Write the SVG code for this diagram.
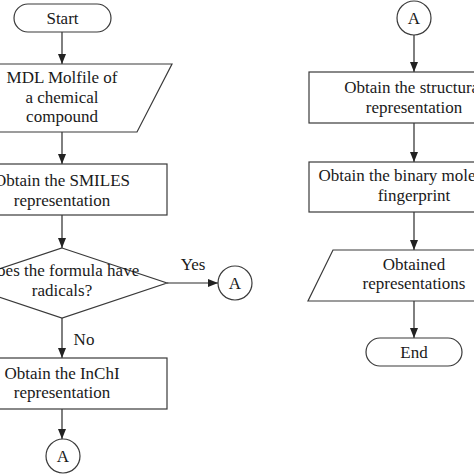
<svg xmlns="http://www.w3.org/2000/svg" width="474" height="474" viewBox="0 0 474 474">
<defs>
<marker id="arr" markerUnits="userSpaceOnUse" markerWidth="10" markerHeight="10" viewBox="0 0 10 10" refX="10" refY="5" orient="auto">
<path d="M0,1 L10,5 L0,9 Z" fill="#222"/>
</marker>
</defs>
<style>
.s{fill:#fff;stroke:#3a3a3a;stroke-width:1.2}
.t{font-family:"Liberation Serif","Times New Roman",serif;font-size:17px;fill:#1a1a1a;text-anchor:middle}
.c{stroke:#2a2a2a;stroke-width:1.2;fill:none;marker-end:url(#arr)}
</style>
<rect width="474" height="474" fill="#fff"/>
<g id="connectors">
<line class="c" x1="62" y1="32" x2="62" y2="64"/>
<line class="c" x1="62" y1="132" x2="62" y2="164"/>
<line class="c" x1="62" y1="215" x2="62" y2="248"/>
<line class="c" x1="167" y1="283" x2="218" y2="283"/>
<line class="c" x1="62" y1="318" x2="62" y2="358"/>
<line class="c" x1="62" y1="409" x2="62" y2="439"/>
<line class="c" x1="414" y1="35" x2="414" y2="72"/>
<line class="c" x1="414" y1="123" x2="414" y2="162"/>
<line class="c" x1="414" y1="212" x2="414" y2="250"/>
<line class="c" x1="414" y1="301" x2="414" y2="338"/>
<text class="t" x="193" y="270">Yes</text>
<text class="t" x="84" y="345">No</text>
</g>
<g id="start">
<rect class="s" x="14" y="4" width="97" height="28" rx="14"/>
<text class="t" x="62.5" y="24">Start</text>
</g>
<g id="molfile">
<polygon class="s" points="-13,64 172,64 137,132 -48,132"/>
<text class="t" x="62" y="83">MDL Molfile of</text>
<text class="t" x="62" y="103">a chemical</text>
<text class="t" x="62" y="122">compound</text>
</g>
<g id="smiles">
<rect class="s" x="-43" y="164" width="210" height="51"/>
<text class="t" x="62" y="186">Obtain the SMILES</text>
<text class="t" x="62" y="206">representation</text>
</g>
<g id="decision">
<polygon class="s" points="62,248 167,283 62,318 -43,283"/>
<text class="t" x="62" y="276">Does the formula have</text>
<text class="t" x="62" y="296">radicals?</text>
</g>
<g id="connA1">
<circle class="s" cx="235" cy="283" r="17"/>
<text class="t" x="235" y="289">A</text>
</g>
<g id="inchi">
<rect class="s" x="-43" y="358" width="210" height="51"/>
<text class="t" x="62" y="379">Obtain the InChI</text>
<text class="t" x="62" y="398">representation</text>
</g>
<g id="connA2">
<circle class="s" cx="63" cy="456" r="17"/>
<text class="t" x="63" y="462">A</text>
</g>
<g id="connA3">
<circle class="s" cx="414" cy="18" r="17"/>
<text class="t" x="414" y="24">A</text>
</g>
<g id="structural">
<rect class="s" x="309" y="72" width="210" height="51"/>
<text class="t" x="414" y="93">Obtain the structural</text>
<text class="t" x="414" y="113">representation</text>
</g>
<g id="fingerprint">
<rect class="s" x="309" y="162" width="210" height="50"/>
<text class="t" x="414" y="181">Obtain the binary molecular</text>
<text class="t" x="414" y="201">fingerprint</text>
</g>
<g id="output">
<polygon class="s" points="333,250 520,250 495,301 308,301"/>
<text class="t" x="414" y="270">Obtained</text>
<text class="t" x="414" y="289">representations</text>
</g>
<g id="end">
<rect class="s" x="366" y="338" width="96" height="28" rx="14"/>
<text class="t" x="414" y="358">End</text>
</g>
</svg>
